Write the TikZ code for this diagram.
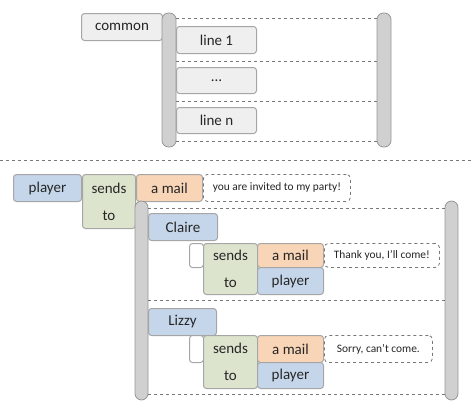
\documentclass[tikz,border=0pt]{standalone}
\usepackage{fontspec}
\setmainfont{Carlito}
\definecolor{bxgray}{RGB}{239,239,239}
\definecolor{bxline}{RGB}{166,166,166}
\definecolor{barfill}{RGB}{208,208,208}
\definecolor{barline}{RGB}{150,150,150}
\definecolor{bxblue}{RGB}{197,214,234}
\definecolor{bxgreen}{RGB}{221,228,206}
\definecolor{bxorange}{RGB}{249,213,183}
\definecolor{dashcol}{RGB}{120,120,120}
\tikzset{
  base/.style={draw=bxline, line width=1pt, rounded corners=3pt, inner sep=0pt, anchor=north west, font=\fontsize{15}{17}\selectfont, text=black!85},
  graybox/.style={base, fill=bxgray},
  bluebox/.style={base, fill=bxblue},
  greenbox/.style={base, fill=bxgreen, align=center, font=\fontsize{15}{27}\selectfont},
  orangebox/.style={base, fill=bxorange},
  whitebox/.style={base, fill=white},
  notebox/.style={draw=dashcol, dashed, line width=0.8pt, rounded corners=4pt, inner sep=0pt, anchor=north west, font=\fontsize{11.4}{13}\selectfont, fill=white, text=black!85},
  bar/.style={draw=barline, line width=0.8pt, fill=barfill, rounded corners=6.5pt},
  sep/.style={draw=dashcol, dashed, line width=0.8pt},
}
\begin{document}
\begin{tikzpicture}[x=1pt,y=-1pt]
\useasboundingbox (0,0) rectangle (472,416);
% ---------- top part ----------
\node[graybox, minimum width=81pt, minimum height=27pt] (common) at (81,13) {common};
\draw[bar] (162,13) rectangle (176,147);
\draw[bar] (377,13) rectangle (391,147);
\coordinate (tl1) at (176,18); \coordinate (tr1) at (377,18);
\coordinate (tl2) at (176,61); \coordinate (tr2) at (377,61);
\coordinate (tl3) at (176,101); \coordinate (tr3) at (377,101);
\coordinate (tl4) at (176,141); \coordinate (tr4) at (377,141);
\draw[sep] (tl1) -- (tr1);
\draw[sep] (tl2) -- (tr2);
\draw[sep] (tl3) -- (tr3);
\draw[sep] (tl4) -- (tr4);
\node[graybox, minimum width=80pt, minimum height=27pt] (line1) at (176,26) {line 1};
\node[graybox, minimum width=80pt, minimum height=26pt] (dots) at (176,67) {...};
\node[graybox, minimum width=80pt, minimum height=26pt] (linen) at (176,107) {line n};
% ---------- separator ----------
\coordinate (sl) at (0,160); \coordinate (sr) at (472,160);
\draw[sep] (sl) -- (sr);
% ---------- bottom part ----------
\node[bluebox, minimum width=68pt, minimum height=27pt] (player) at (13,174) {player};
\node[greenbox, minimum width=53pt, minimum height=54pt] (sends) at (82,174) {sends\\to};
\node[orangebox, minimum width=66pt, minimum height=27pt] (mail) at (136,174) {a mail};
\node[notebox, minimum width=147pt, minimum height=27pt] (note) at (203,174) {you are invited to my party!};
\draw[bar] (135,201) rectangle (148,400);
\draw[bar] (445,201) rectangle (458,400);
\coordinate (bl1) at (148,208); \coordinate (br1) at (445,208);
\coordinate (bl2) at (148,300); \coordinate (br2) at (445,300);
\coordinate (bl3) at (148,394); \coordinate (br3) at (445,394);
\draw[sep] (bl1) -- (br1);
\draw[sep] (bl2) -- (br2);
\draw[sep] (bl3) -- (br3);
% Claire
\node[bluebox, minimum width=69pt, minimum height=27pt] (claire) at (148,213) {Claire};
\node[whitebox, minimum width=14pt, minimum height=24pt] (cw) at (189,243) {};
\node[greenbox, minimum width=54pt, minimum height=51pt] (csends) at (203,243) {sends\\to};
\node[orangebox, minimum width=66pt, minimum height=24pt] (cmail) at (257,243) {a mail};
\node[bluebox, minimum width=66pt, minimum height=27pt] (cplayer) at (257,267) {player};
\node[notebox, minimum width=115pt, minimum height=24pt] (cnote) at (324,243) {Thank you, I’ll come!};
% Lizzy
\node[bluebox, minimum width=68pt, minimum height=27pt] (lizzy) at (148,308) {Lizzy};
\node[whitebox, minimum width=14pt, minimum height=27pt] (lw) at (189,335) {};
\node[greenbox, minimum width=54pt, minimum height=53pt] (lsends) at (203,335) {sends\\to};
\node[orangebox, minimum width=66pt, minimum height=27pt] (lmail) at (257,335) {a mail};
\node[bluebox, minimum width=66pt, minimum height=26pt] (lplayer) at (257,362) {player};
\node[notebox, minimum width=108pt, minimum height=27pt] (lnote) at (324,335) {Sorry, can’t come.};
\end{tikzpicture}
\end{document}
